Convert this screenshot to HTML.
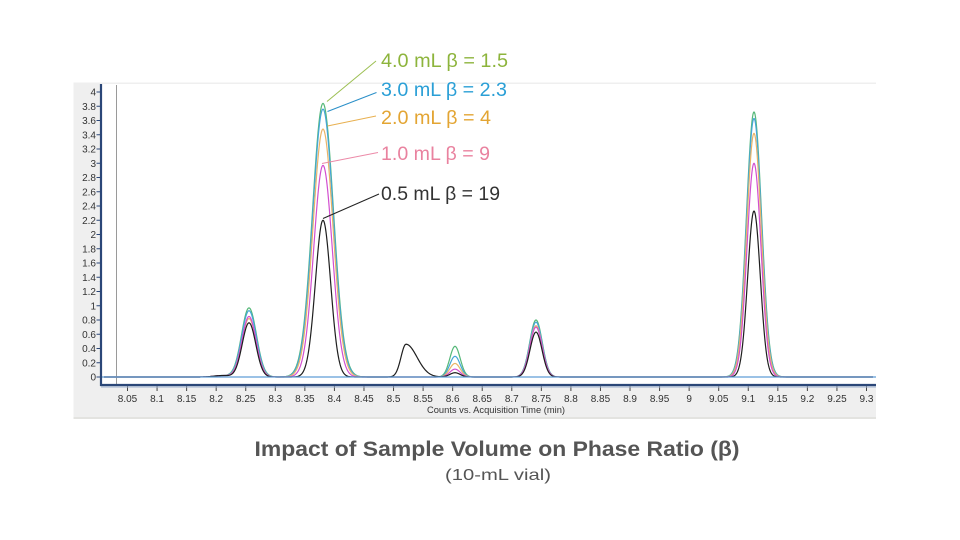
<!DOCTYPE html>
<html>
<head>
<meta charset="utf-8">
<style>
html,body{margin:0;padding:0;background:#fff;}
svg{display:block;}
text{font-family:"Liberation Sans",Arial,sans-serif;}
</style>
</head>
<body>
<svg id="c" width="960" height="540" viewBox="0 0 960 540" xmlns="http://www.w3.org/2000/svg">
  <rect x="0" y="0" width="960" height="540" fill="#ffffff"/>
  <!-- grey panel -->
  <rect x="73.5" y="82.5" width="802.5" height="336" fill="#efefef"/>
  <rect x="73.5" y="417" width="802.5" height="2" fill="#e3e3e0"/>
  <!-- plot white area -->
  <rect x="101" y="84" width="775" height="301" fill="#ffffff"/>
  <!-- vertical grey line -->
  <line x1="116.5" y1="85" x2="116.5" y2="385" stroke="#9a9a9a" stroke-width="1"/>
  <g id="ticks"></g>
  <g id="curves" fill="none" stroke-width="1.2" stroke-linejoin="round"></g>
  <!-- baseline -->
  <line x1="101" y1="377" x2="876" y2="377" stroke="#5f9ed6" stroke-width="1.2"/>
  <!-- axes -->
  <line x1="101" y1="84" x2="101" y2="386" stroke="#2b4778" stroke-width="2.2"/>
  <line x1="100" y1="385" x2="876" y2="385" stroke="#2b4778" stroke-width="2.2"/>
  <line x1="101" y1="387" x2="876" y2="387" stroke="#9fb2cf" stroke-width="1"/>
  <text x="496" y="413" font-size="9.5" fill="#333" text-anchor="middle" textLength="138" lengthAdjust="spacingAndGlyphs">Counts vs. Acquisition Time (min)</text>

  <!-- leader lines -->
  <line x1="376" y1="61" x2="327" y2="101.5" stroke="#9cbf52" stroke-width="1"/>
  <line x1="376.5" y1="92.5" x2="327.5" y2="111.5" stroke="#2a8fc8" stroke-width="1"/>
  <line x1="376" y1="116" x2="327.5" y2="126" stroke="#e8b050" stroke-width="1"/>
  <line x1="378" y1="152.5" x2="322" y2="163.5" stroke="#ec8aa8" stroke-width="1"/>
  <line x1="379" y1="194" x2="323" y2="218.5" stroke="#222" stroke-width="1"/>

  <!-- labels -->
  <text x="381" y="67" font-size="19" fill="#8db43c" textLength="127" lengthAdjust="spacingAndGlyphs">4.0 mL β = 1.5</text>
  <text x="381" y="96" font-size="19" fill="#2a9fd6" textLength="126" lengthAdjust="spacingAndGlyphs">3.0 mL β = 2.3</text>
  <text x="381" y="124" font-size="19" fill="#e3a533" textLength="110" lengthAdjust="spacingAndGlyphs">2.0 mL β = 4</text>
  <text x="381" y="160" font-size="19" fill="#e9829f" textLength="109" lengthAdjust="spacingAndGlyphs">1.0 mL β = 9</text>
  <text x="381" y="200" font-size="19" fill="#333333" textLength="119" lengthAdjust="spacingAndGlyphs">0.5 mL β = 19</text>

  <!-- title -->
  <text x="497" y="456" font-size="21" font-weight="bold" fill="#555555" text-anchor="middle" textLength="485" lengthAdjust="spacingAndGlyphs">Impact of Sample Volume on Phase Ratio (β)</text>
  <text x="498" y="480" font-size="16" fill="#555555" text-anchor="middle" textLength="106" lengthAdjust="spacingAndGlyphs">(10-mL vial)</text>
</svg>
<script>
(function(){
  var NS="http://www.w3.org/2000/svg";
  var ticks=document.getElementById("ticks");
  function el(tag,attrs,txt){var e=document.createElementNS(NS,tag);for(var k in attrs)e.setAttribute(k,attrs[k]);if(txt!==undefined)e.textContent=txt;return e;}
  var y0=377, k=71.25;
  for(var i=0;i<=20;i++){
    var v=i*0.2, y=y0-v*k;
    var lab=(Math.round(v*10)/10).toString();
    ticks.appendChild(el("line",{x1:96.5,y1:y,x2:101,y2:y,stroke:"#2b4778","stroke-width":1}));
    ticks.appendChild(el("text",{x:96,y:y+3.5,"font-size":"10",fill:"#333","text-anchor":"end"},lab));
  }
  for(var j=0;j<=25;j++){
    var t=8.05+j*0.05, x=127.5+j*29.56;
    var lab2=(Math.round(t*100)/100).toString();
    ticks.appendChild(el("line",{x1:x,y1:386,x2:x,y2:391,stroke:"#444","stroke-width":1}));
    ticks.appendChild(el("text",{x:x,y:402,"font-size":"10",fill:"#333","text-anchor":"middle"},lab2));
  }
  var cols=["#55b878","#45a6d8","#e9b468","#d24fd0","#1e1e1e"];
  var peaks=[
    {c:249,h:[0.97,0.93,0.82,0.85,0.76],s:[7.5,7.4,7.2,7,6.8]},
    {c:323,h:[3.84,3.76,3.48,2.97,2.2],s:[10.5,10.3,10.0,9.3,7.6]},
    {c:455,h:[0.43,0.29,0.19,0.11,0.06],s:[5.2,5.2,5.2,5.2,5.2]},
    {c:536,h:[0.80,0.77,0.72,0.70,0.63],s:[6.3,6.3,6.2,6.2,6]},
    {c:754,h:[3.72,3.63,3.42,3.0,2.33],s:[7.6,7.5,7.3,7.0,6.3]}
  ];
  var g=document.getElementById("curves");
  for(var si=0;si<5;si++){
    var d="";
    for(var x=104;x<=873;x+=0.5){
      var v=0;
      for(var p=0;p<peaks.length;p++){
        var P=peaks[p], dx=x-P.c, s=P.s[si];
        if(Math.abs(dx)<6*s) v+=P.h[si]*Math.exp(-0.5*dx*dx/(s*s));
      }
      if(si===4){
        var dx2=x-406, s2=dx2<0?5:11;
        v+=0.46*Math.exp(-0.5*dx2*dx2/(s2*s2));
      }
      var db=x-222; v+=0.02*Math.exp(-0.5*db*db/64);
      var y=y0-v*k;
      d+=(d?"L":"M")+x.toFixed(1)+" "+y.toFixed(2);
    }
    g.appendChild(el("path",{d:d,stroke:cols[si]}));
  }
})();
</script>
</body>
</html>
